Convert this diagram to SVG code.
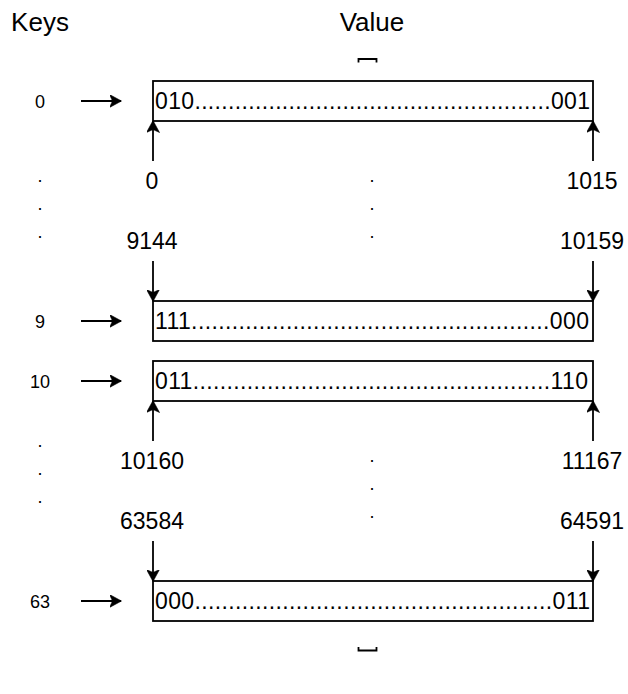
<svg xmlns="http://www.w3.org/2000/svg" width="628" height="694" viewBox="0 0 628 694">
<defs>
<style>
text{font-family:"Liberation Sans",Arial,sans-serif;fill:#000}
.hd{font-size:26px;text-anchor:middle}
.key{font-size:18px;text-anchor:middle}
.lbl{font-size:23px;text-anchor:middle}
.bx{font-size:23px}
.dot{font-size:18px;text-anchor:middle}
.box{fill:#fff;stroke:#000;stroke-width:1.8}
.c{fill:none;stroke:#000;stroke-width:1.8}
</style>
<marker id="ah" viewBox="0 0 12 13" refX="11.5" refY="6.5" markerWidth="12" markerHeight="13" markerUnits="userSpaceOnUse" orient="auto">
<path d="M0,0 L12,6.5 L0,13 L3,6.5 Z" fill="#000" stroke="#000" stroke-width="0.6" stroke-linejoin="miter"/>
</marker>
</defs>
<rect width="628" height="694" fill="#fff"/>
<g id="headers">
<text class="hd" x="40" y="31">Keys</text>
<text class="hd" x="372" y="31">Value</text>
</g>
<g id="brackets">
<path class="c" d="M358.5,62.5 V59 H376.5 V62.5"/>
<path class="c" d="M358.5,647 V650.5 H376.5 V647"/>
</g>
<g id="keys">
<text class="key" x="40" y="108">0</text>
<text class="key" x="40" y="328">9</text>
<text class="key" x="40" y="388">10</text>
<text class="key" x="40" y="608">63</text>
<text class="dot" x="40" y="182">.</text>
<text class="dot" x="40" y="210">.</text>
<text class="dot" x="40" y="238">.</text>
<text class="dot" x="40" y="447">.</text>
<text class="dot" x="40" y="475">.</text>
<text class="dot" x="40" y="503">.</text>
</g>
<g id="mid-dots">
<text class="dot" x="372" y="182">.</text>
<text class="dot" x="372" y="210">.</text>
<text class="dot" x="372" y="238">.</text>
<text class="dot" x="372" y="462">.</text>
<text class="dot" x="372" y="490">.</text>
<text class="dot" x="372" y="518">.</text>
</g>
<g id="row0">
<rect class="box" x="153" y="81" width="440" height="40"/>
<text class="bx" x="155" y="109" textLength="435" lengthAdjust="spacing">010.....................................................001</text>
</g>
<g id="row9">
<rect class="box" x="153" y="301" width="440" height="40"/>
<text class="bx" x="155" y="329" textLength="434" lengthAdjust="spacing">111.....................................................000</text>
</g>
<g id="row10">
<rect class="box" x="153" y="361" width="440" height="40"/>
<text class="bx" x="155" y="389" textLength="433" lengthAdjust="spacing">011.....................................................110</text>
</g>
<g id="row63">
<rect class="box" x="153" y="581" width="440" height="40"/>
<text class="bx" x="155" y="609" textLength="435" lengthAdjust="spacing">000.....................................................011</text>
</g>
<g id="labels">
<text class="lbl" x="152" y="189">0</text>
<text class="lbl" x="152" y="249">9144</text>
<text class="lbl" x="592" y="189">1015</text>
<text class="lbl" x="592" y="249">10159</text>
<text class="lbl" x="152" y="469">10160</text>
<text class="lbl" x="152" y="529">63584</text>
<text class="lbl" x="592" y="469">11167</text>
<text class="lbl" x="592" y="529">64591</text>
</g>
<g id="connectors">
<path class="c" marker-end="url(#ah)" d="M81,101 H121"/>
<path class="c" marker-end="url(#ah)" d="M81,321 H121"/>
<path class="c" marker-end="url(#ah)" d="M81,381 H121"/>
<path class="c" marker-end="url(#ah)" d="M81,601 H121"/>
<path class="c" marker-end="url(#ah)" d="M153,161 V121"/>
<path class="c" marker-end="url(#ah)" d="M593,161 V121"/>
<path class="c" marker-end="url(#ah)" d="M153,261 V301"/>
<path class="c" marker-end="url(#ah)" d="M593,261 V301"/>
<path class="c" marker-end="url(#ah)" d="M153,441 V401"/>
<path class="c" marker-end="url(#ah)" d="M593,441 V401"/>
<path class="c" marker-end="url(#ah)" d="M153,541 V581"/>
<path class="c" marker-end="url(#ah)" d="M593,541 V581"/>
</g>
</svg>
